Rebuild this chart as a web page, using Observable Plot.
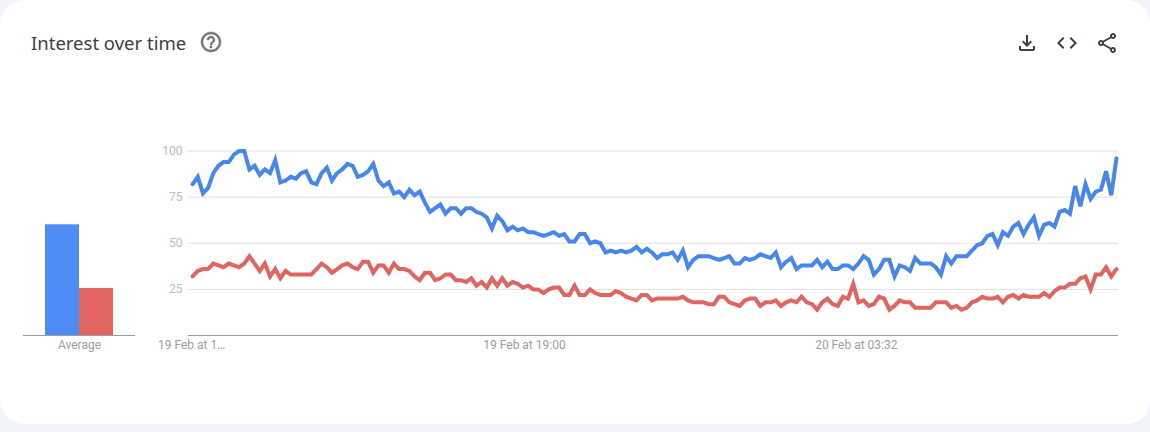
<!DOCTYPE html>
<html><head><meta charset="utf-8">
<script src="https://cdn.jsdelivr.net/npm/d3@7"></script>
<script src="https://cdn.jsdelivr.net/npm/@observablehq/plot@0.6"></script>
<style>
html,body{margin:0;padding:0;background:#f1f4fb;width:1150px;height:432px;overflow:hidden}
#card{position:absolute;left:0;top:0;width:1150px;height:424px;background:#fff;border-radius:24px}
#title{position:absolute;left:31px;top:30px;font:18.5px/26px "Noto Sans",sans-serif;color:#3c4043;white-space:nowrap}
.ic{position:absolute;width:24px;height:24px;fill:#5f6368}
#line,#bars{position:absolute;top:0}
#line{left:0}#bars{left:23px}
svg{display:block}
</style></head><body>
<div id="card"></div>
<div id="title">Interest over time</div>
<svg class="ic" style="left:199px;top:30px;fill:#757575;stroke:#757575;stroke-width:.5" viewBox="0 0 24 24"><path d="M11 18h2v-2h-2v2zm1-16C6.48 2 2 6.48 2 12s4.48 10 10 10 10-4.48 10-10S17.52 2 12 2zm0 18c-4.41 0-8-3.59-8-8s3.59-8 8-8 8 3.59 8 8-3.59 8-8 8zm0-14c-2.21 0-4 1.79-4 4h2c0-1.1.9-2 2-2s2 .9 2 2c0 2-3 1.75-3 5h2c0-2.25 3-2.5 3-5 0-2.21-1.79-4-4-4z"/></svg>
<svg class="ic" style="left:1015px;top:31px;fill:#3c4043" viewBox="0 0 24 24"><path d="M18 15v3H6v-3H4v3c0 1.1.9 2 2 2h12c1.1 0 2-.9 2-2v-3h-2zm-1-4l-1.41-1.41L13 12.17V4h-2v8.17L8.41 9.59 7 11l5 5 5-5z"/></svg>
<svg class="ic" style="left:1055px;top:31px;fill:#3c4043" viewBox="0 0 24 24"><path d="M9.4 16.6L4.8 12l4.6-4.6L8 6l-6 6 6 6 1.4-1.4zm5.2 0l4.6-4.6-4.6-4.6L16 6l6 6-6 6-1.4-1.4z"/></svg>
<svg class="ic" style="left:1095px;top:31px;fill:#3c4043" viewBox="0 0 24 24"><path d="M18 16.08c-.76 0-1.44.3-1.96.77L8.91 12.7c.05-.23.09-.46.09-.7s-.04-.47-.09-.7l7.05-4.11c.54.5 1.25.81 2.04.81 1.66 0 3-1.34 3-3s-1.34-3-3-3-3 1.34-3 3c0 .24.04.47.09.7L8.04 9.81C7.5 9.31 6.79 9 6 9c-1.66 0-3 1.34-3 3s1.34 3 3 3c.79 0 1.5-.31 2.04-.81l7.12 4.16c-.05.21-.08.43-.08.65 0 1.61 1.31 2.92 2.92 2.92s2.92-1.31 2.92-2.92-1.31-2.92-2.92-2.92zM18 4c.55 0 1 .45 1 1s-.45 1-1 1-1-.45-1-1 .45-1 1-1zM6 13c-.55 0-1-.45-1-1s.45-1 1-1 1 .45 1 1-.45 1-1 1zm12 7.02c-.55 0-1-.45-1-1s.45-1 1-1 1 .45 1 1-.45 1-1 1z"/></svg>
<div id="bars"></div>
<div id="line"></div>
<script>
const blueValues = [82,86,77,80,88,92,94,94,98,100,100,90,92,87,90,88,95,83,84,86,85,88,89,83,82,88,91,84,88,90,93,92,86,87,89,93,84,81,83,77,78,75,79,76,78,72,67,69,71,66,69,69,66,69,69,67,66,64,58,65,62,57,59,57,58,56,56,55,54,55,56,54,55,51,51,55,55,50,51,50,45,46,45,46,45,46,48,45,47,45,42,44,44,45,41,46,37,41,43,43,43,42,41,42,43,39,39,42,41,42,44,43,42,45,37,40,42,36,38,38,38,41,37,40,36,36,38,38,36,39,43,41,33,36,41,41,32,38,37,35,42,39,39,39,37,33,43,39,43,43,43,46,49,50,54,55,49,56,54,59,61,55,60,64,54,60,61,59,67,68,66,81,70,82,74,78,79,89,76,96];
const redValues = [32,35,36,36,39,38,37,39,38,37,39,43,39,35,39,32,36,31,35,33,33,33,33,33,36,39,37,34,36,38,39,37,36,40,40,34,38,38,34,39,36,36,35,32,30,34,34,30,31,33,33,30,30,29,31,27,29,26,31,27,31,27,29,28,26,27,25,25,23,25,26,26,22,22,27,22,22,25,23,22,22,22,24,23,21,20,19,22,22,19,20,20,20,20,20,21,19,18,18,18,17,17,21,21,18,17,16,19,20,20,16,18,18,19,16,18,19,18,21,18,17,14,18,20,17,16,21,20,28,18,19,16,17,21,20,14,16,19,18,18,15,15,15,15,18,18,18,15,16,14,15,18,19,21,20,20,21,18,21,22,20,22,21,21,21,23,21,24,26,26,28,28,31,32,25,33,33,37,32,36];
const seriesNames = ["first","second"];
const averageValues = [60,25.5];
const yTicks = [25,50,75,100];
const xTickIndex = [-0.2,64.3,128.6];
const xTickLabels = ["19 Feb at 1…","19 Feb at 19:00","20 Feb at 03:32"];
const BLUE="#4787ed", RED="#e0645f", BARBLUE="#4d8cf5", BARRED="#e3655f";
const font='Roboto, sans-serif';

document.getElementById("line").append(Plot.plot({
  width:1150,height:432,marginLeft:188,marginRight:32,marginTop:150.5,marginBottom:97,
  style:{background:"transparent",fontFamily:font,fontSize:"12px",overflow:"visible"},
  x:{domain:[-0.8,179.4]},
  y:{domain:[0,100]},
  marks:[
    Plot.ruleY(yTicks,{stroke:"#e0e0e0",strokeOpacity:1}),
    Plot.ruleY([0],{stroke:"#9e9e9e"}),
    Plot.axisY(yTicks,{anchor:"left",tickSize:0,tickPadding:6,label:null,color:"#bdbdbd",fontSize:12}),
    Plot.axisX(xTickIndex,{anchor:"bottom",tickSize:0,tickPadding:5,label:null,color:"#9e9e9e",fontSize:12,tickFormat:i=>xTickLabels[xTickIndex.indexOf(i)]}),
    Plot.line(blueValues,{x:(d,i)=>i,y:d=>d,stroke:BLUE,strokeWidth:4,curve:"linear",strokeLinejoin:"miter",strokeMiterlimit:4}),
    Plot.line(redValues,{x:(d,i)=>i,y:d=>d,stroke:RED,strokeWidth:4,curve:"linear",strokeLinejoin:"miter",strokeMiterlimit:4})
  ]
}));

document.getElementById("bars").append(Plot.plot({
  width:112,height:432,marginLeft:22,marginRight:22,marginTop:150.5,marginBottom:97,
  style:{background:"transparent",fontFamily:font,fontSize:"12px",overflow:"visible"},
  x:{domain:seriesNames,padding:0,axis:null},
  y:{domain:[0,100],axis:null},
  color:{type:"ordinal",domain:seriesNames,range:[BARBLUE,BARRED]},
  marks:[
    Plot.barY(averageValues,{x:(d,i)=>seriesNames[i],y:d=>d,fill:(d,i)=>seriesNames[i]}),
    Plot.ruleY([0],{stroke:"#9e9e9e",insetLeft:-22,insetRight:-22}),
    Plot.text(["Average"],{frameAnchor:"bottom",dy:13,fill:"#9e9e9e",fontSize:12})
  ]
}));
</script>
</body></html>
